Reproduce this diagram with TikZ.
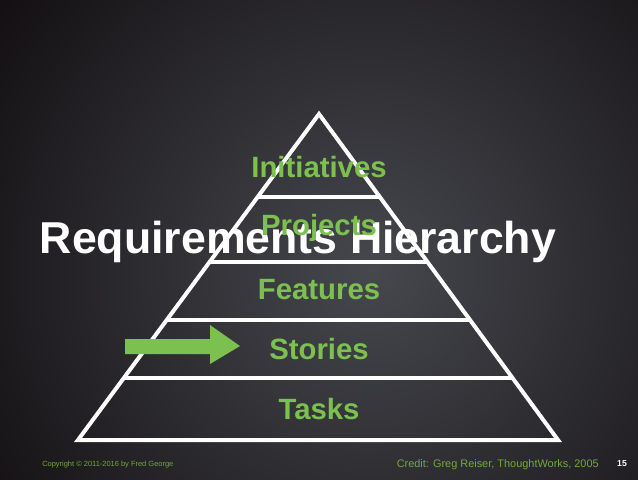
\documentclass[tikz,border=0pt]{standalone}
\usepackage{fontspec}
\setmainfont{Liberation Sans}
\usetikzlibrary{arrows.meta}
\usetikzlibrary{calc}

\definecolor{bgdark}{RGB}{18,14,17}
\definecolor{bglight}{RGB}{70,72,78}
\definecolor{levelgreen}{RGB}{124,192,80}
\definecolor{footgreen}{RGB}{112,170,62}

\begin{document}
\begin{tikzpicture}[x=0.75pt,y=-0.75pt,
    level/.style={font=\bfseries\fontsize{22}{24}\selectfont,text=levelgreen,inner sep=0pt},
    foot/.style={font=\fontsize{5.6}{7}\selectfont,text=footgreen,inner sep=0pt},
    pyramid/.style={draw=white,line width=3pt,line join=miter}]
    % background
    \useasboundingbox (0,0) rectangle (638,479);
    \fill[bgdark] (0,0) rectangle (638,479);
    \begin{scope}
        \clip (0,0) rectangle (638,479);
        \shade[inner color=bglight,outer color=bgdark] (370,270) circle[radius=470];
    \end{scope}
    % title
    \node[font=\bfseries\fontsize{33.5}{36}\selectfont,text=white,inner sep=0pt] (title) at (298,242) {Requirements Hierarchy};
    % pyramid
    \coordinate (apex) at (319,114);
    \coordinate (bl) at (78,440);
    \coordinate (br) at (558,440);
    \draw[pyramid] (apex) -- (br) -- (bl) -- cycle;
    \foreach \t/\n in {0.2546/1,0.454/2,0.632/3,0.81/4} {
        \coordinate (l\n) at ($(apex)!\t!(bl)$);
        \coordinate (r\n) at ($(apex)!\t!(br)$);
        \draw[pyramid,line width=2.5pt] (l\n) -- (r\n);
    }
    \node[level] (init) at (319,167) {Initiatives};
    \node[level] (proj) at (319,228) {Projects};
    \node[level] (feat) at (319,290) {Features};
    \node[level] (stor) at (319,349) {Stories};
    \node[level] (task) at (319,409) {Tasks};
    % pointer
    \coordinate (ptail) at (125,346);
    \coordinate (ptip) at (240,346);
    \fill[levelgreen] (125,339) -- (210,339) -- (210,325) -- (ptip) -- (210,364) -- (210,354) -- (125,354) -- cycle;
    % footer
    \node[foot,anchor=west] (copy) at (42,465) {Copyright \textcopyright\ 2011-2016 by Fred George};
    \node[foot,anchor=east,font=\fontsize{8.2}{10}\selectfont] (credit) at (599,465) {Credit: Greg Reiser, ThoughtWorks, 2005};
    \node[anchor=center,inner sep=0pt,text=white,font=\bfseries\fontsize{6.5}{7}\selectfont] (page) at (622,464) {15};
\end{tikzpicture}
\end{document}
